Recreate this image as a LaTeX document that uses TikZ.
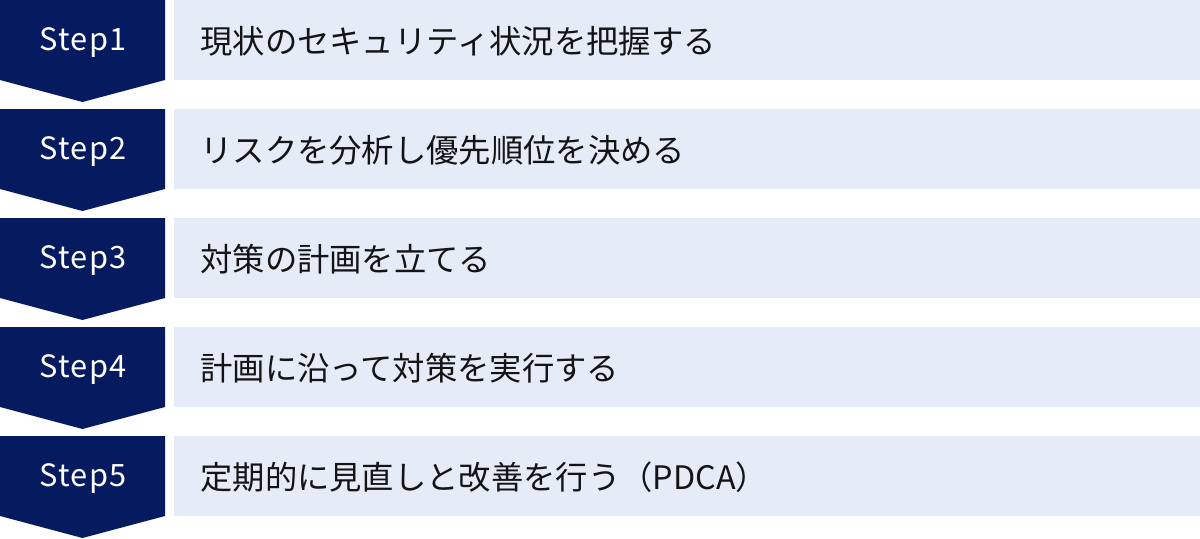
\documentclass[tikz,border=0pt]{standalone}
\usepackage{fontspec}
\setmainfont{Noto Sans}
\newfontfamily\jpfont{Noto Sans CJK JP}
\newfontfamily\stepfont[LetterSpace=5]{Noto Sans CJK JP}
\usetikzlibrary{positioning}
\definecolor{stepnavy}{HTML}{061A5F}
\definecolor{rowbg}{HTML}{E6EBF8}
\tikzset{
  steplabel/.style={text=white,inner sep=0pt,font=\stepfont\fontsize{17.5}{20}\selectfont},
  rowtext/.style={anchor=west,inner sep=0pt,text=black!92,font=\jpfont\fontsize{18.4}{22}\selectfont},
}

\begin{document}
\begin{tikzpicture}[x=0.02cm,y=-0.02cm]
  \useasboundingbox (0,0) rectangle (1200,538);
  \foreach \i/\txt in {1/{現状のセキュリティ状況を把握する},
                       2/{リスクを分析し優先順位を決める},
                       3/{対策の計画を立てる},
                       4/{計画に沿って対策を実行する},
                       5/{定期的に見直しと改善を行う（PDCA）}} {
    \pgfmathsetmacro{\rowtop}{(\i-1)*109}
    % chevron and bar
    \fill[stepnavy] (0,\rowtop) -- (165,\rowtop) -- (165,\rowtop+80)
      -- (82.5,\rowtop+102) -- (0,\rowtop+80) -- cycle;
    \fill[rowbg] (174,\rowtop) rectangle (1200,\rowtop+80);
    \node[steplabel] (step\i) at (83,\rowtop+43) {Step\i};
    \node[rowtext] (task\i) at (200,\rowtop+41) {\txt};
  }
\end{tikzpicture}
\end{document}
